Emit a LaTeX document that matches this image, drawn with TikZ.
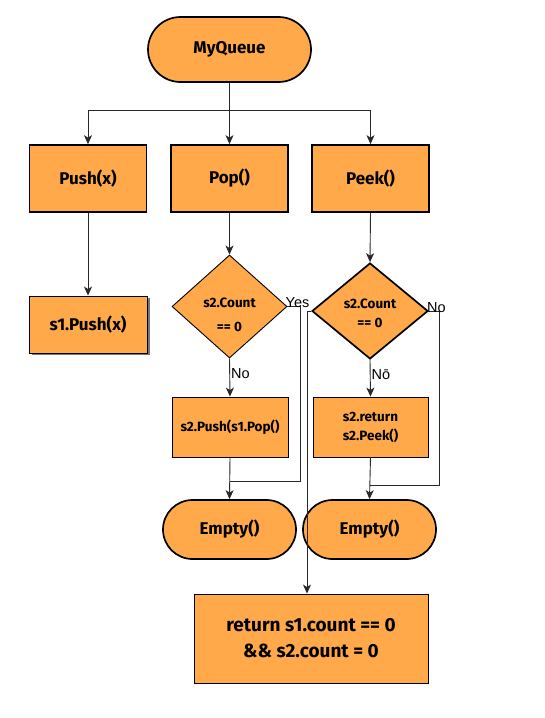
\documentclass[tikz,border=0pt]{standalone}
\usepackage{fontspec}
\setmainfont{Fira Sans}
\newfontfamily\lblfont{Liberation Sans}
\usetikzlibrary{shapes.geometric,shapes.misc,arrows.meta,shadows}
\definecolor{orng}{RGB}{255,169,74}
\definecolor{ln}{RGB}{40,40,40}
\tikzset{
  base/.style={fill=orng, draw=black, align=center, inner sep=0pt},
  thickb/.style={base, line width=1.7pt},
  thinb/.style={base, line width=0.9pt},
  term/.style={thickb, rounded rectangle, font=\bfseries\fontsize{17}{19}\selectfont},
  bigbox/.style={thickb, rectangle, minimum width=117pt, minimum height=67pt, font=\bfseries\fontsize{17}{19}\selectfont},
  smallbox/.style={thinb, rectangle, font=\bfseries\fontsize{13.5}{19}\selectfont},
  dia/.style={diamond},
  diatext/.style={align=center, font=\bfseries\fontsize{13.5}{16}\selectfont, inner sep=0pt},
  conn/.style={draw=ln, line width=0.9pt},
  arr/.style={conn, -{Stealth[length=9pt,width=8pt,inset=2.5pt]}},
  lbl/.style={font=\lblfont\fontsize{14.5}{16}\selectfont, inner sep=1pt}
}
\begin{document}
\begin{tikzpicture}[x=1pt,y=-1pt]
\useasboundingbox (0,0) rectangle (544,718);
\node[term, minimum width=163pt, minimum height=65pt] (mq) at (229.5,49.5) {MyQueue};
\node[bigbox] (push) at (88,178.5) {Push(x)};
\node[bigbox] (pop) at (229.5,178.5) {Pop()};
\node[bigbox] (peek) at (370.5,178.5) {Peek()};
\node[thinb, rectangle, minimum width=118pt, minimum height=57pt, font=\bfseries\fontsize{17}{19}\selectfont,
      drop shadow={shadow xshift=2.5pt, shadow yshift=-1.5pt, fill=black!60, opacity=0.9}] (s1p) at (88,324.5) {s1.Push(x)};
\node[thinb, dia, minimum width=115pt, minimum height=103pt,
      label={[diatext, yshift=-8pt]center:{s2.Count\\[8pt]== 0}}] (d1) at (229.5,306.5) {};
\node[thickb, dia, minimum width=116pt, minimum height=96pt,
      label={[diatext, yshift=-2pt]center:{s2.Count\\[3pt]== 0}}] (d2) at (370,311) {};
\node[smallbox, minimum width=116pt, minimum height=60pt] (s2p) at (230,427) {s2.Push(s1.Pop()};
\node[smallbox, minimum width=115pt, minimum height=60pt] (s2r) at (370.5,427) {s2.return\\s2.Peek()};
\node[term, minimum width=133pt, minimum height=59pt] (e1) at (229.5,529.5) {Empty()};
\node[term, minimum width=133pt, minimum height=59pt] (e2) at (369.5,529.5) {Empty()};
\node[thinb, rectangle, minimum width=234pt, minimum height=89pt, font=\bfseries\fontsize{19}{26}\selectfont] (ret) at (311,638.5) {return s1.count == 0\\\&\& s2.count = 0};
% connectors
\coordinate (br) at (229.5,110);
\draw[conn] (mq.south) -- (br);
\draw[arr] (br) -- (pop.north);
\draw[arr] (br) -| (push.north);
\draw[arr] (br) -| (peek.north);
\draw[arr] (push.south) -- (s1p.north);
\draw[arr] (pop.south) -- (d1.north);
\draw[arr] (peek.south) -- (d2.north);
\draw[arr] (d1.south) -- node[lbl, right, pos=0.4] {No} (s2p.north);
\draw[arr] (d2.south) -- node[lbl, right, pos=0.4] {Nō} (s2r.north);
\draw[arr] (s2p.south) -- (e1.north);
\draw[arr] (s2r.south) -- (e2.north);
\coordinate (y1) at (300,306.5);
\coordinate (y2) at (300,481);
\draw[conn] (d1.east) -- (y1) -- (y2) -- (y2 -| e1.north);
\node[lbl, above right, inner sep=0pt] (yes) at ([xshift=-2pt,yshift=-1pt]d1.east) {Yes};
\coordinate (n1) at (439,311);
\coordinate (n2) at (439,485);
\draw[conn] (d2.east) -- (n1) -- (n2) -- (n2 -| e2.north);
\node[lbl, above right, inner sep=0pt] (no2) at ([xshift=-2pt,yshift=-2pt]d2.east) {No};
\coordinate (w1) at (307,311);
\draw[arr] (d2.west) -- (w1) -- (w1 |- ret.north);
\end{tikzpicture}
\end{document}
